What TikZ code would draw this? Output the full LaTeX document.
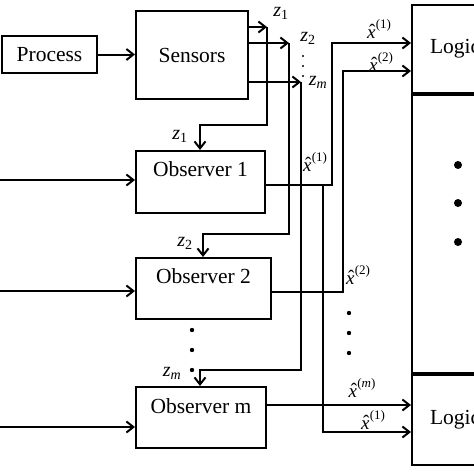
\documentclass[tikz,border=0pt]{standalone}
\usepackage{fontspec}
\setmainfont{Liberation Serif}
\usetikzlibrary{arrows.meta,calc}
\newcommand\xhatlab[1]{\ooalign{\textit{x}\cr\hidewidth\kern0.12em\raisebox{0.02em}{\char"02C6}\hidewidth\cr}\kern0.02em\raisebox{0.5em}{\fontsize{13}{14}\selectfont(#1)}}
\begin{document}
\begin{tikzpicture}[x=1pt,y=-1pt,
  every node/.style={font=\fontsize{21.5}{24}\selectfont},
  blk/.style={draw, line width=2pt, anchor=north west, inner sep=0pt, rectangle},
  wire/.style={line width=2pt},
  arr/.style={line width=2pt, -{Straight Barb[length=7pt,width=11pt]}},
  lab/.style={font=\fontsize{20}{22}\selectfont, inner sep=0pt},
  xlab/.style={font=\fontsize{19}{22}\selectfont, inner sep=0pt},
  dotsm/.style={fill=black},
]
\useasboundingbox (0,0) rectangle (474,474);
\clip (0,0) rectangle (474,474);
% blocks
\node[blk, minimum width=95pt, minimum height=37pt] (proc) at (1,35) {Process};
\node[blk, minimum width=112pt, minimum height=88pt] (sens) at (135,10) {Sensors};
\node[blk, minimum width=129pt, text height=25pt, text depth=37pt] (obs1) at (135,150) {Observer 1};
\node[blk, minimum width=135pt, text height=25pt, text depth=36pt] (obs2) at (135,257) {Observer 2};
\node[blk, minimum width=130pt, text height=26pt, text depth=35pt] (obsm) at (135,386) {Observer m};
\node[blk, minimum height=88pt, text width=100pt, align=left, inner xsep=18pt] (logic1) at (411,4) {Logic};
\node[blk, minimum width=130pt, minimum height=278pt] (mid) at (411,94) {};
\node[blk, minimum height=90pt, text width=100pt, align=left, inner xsep=18pt] (logic2) at (411,374) {Logic};
% process to sensors
\draw[arr] (proc.east) -- (proc.east -| sens.west);
% sensor outputs
\coordinate (j1) at (267,27);
\coordinate (j2) at (289,43);
\coordinate (jm) at (301,82);
\draw[arr] (sens.east |- j1) -- (j1);
\draw[arr] (sens.east |- j2) -- (j2);
\draw[arr] (sens.east |- jm) -- (jm);
\draw[arr] (j1) |- ($(obs1.north west)+(65,-25)$) -- ($(obs1.north west)+(65,0)$);
\draw[arr] (j2) |- ($(obs2.north west)+(68,-23)$) -- ($(obs2.north west)+(68,0)$);
\draw[arr] (jm) |- ($(obsm.north west)+(65,-16)$) -- ($(obsm.north west)+(65,0)$);
% inputs
\coordinate (in1) at (0,180);
\coordinate (in2) at (0,291);
\coordinate (inm) at (0,427);
\draw[arr] (in1) -- (in1 -| obs1.west);
\draw[arr] (in2) -- (in2 -| obs2.west);
\draw[arr] (inm) -- (inm -| obsm.west);
% observer outputs
\coordinate (o1) at ($(obs1.east)+(0,3)$);
\coordinate (o2) at ($(obs2.east)+(0,3.5)$);
\coordinate (om) at ($(obsm.east)+(0,-12.5)$);
\draw[arr] (o1) -| ($(logic1.north west)+(-79,39)$) -- ($(logic1.north west)+(0,39)$);
\draw[arr] ($(o1)+(57,0)$) |- ($(logic2.north west)+(0,58)$);
\draw[arr] (o2) -| ($(logic1.north west)+(-68,67)$) -- ($(logic1.north west)+(0,67)$);
\draw[arr] (om) -- (om -| logic2.west);
% labels
\node[lab] (lz1) at (281,13) {\textit{z}\textsubscript{1}};
\node[lab] (lz2) at (308,38) {\textit{z}\textsubscript{2}};
\node[lab] (lzm) at (318,82) {\textit{z}\textsubscript{\textit{m}}};
\node[lab] (bz1) at (180,136) {\textit{z}\textsubscript{1}};
\node[lab] (bz2) at (185,243) {\textit{z}\textsubscript{2}};
\node[lab] (bzm) at (172,373) {\textit{z}\textsubscript{\textit{m}}};
\node[xlab] (tx1) at (379,29) {\xhatlab{1}};
\node[xlab] (tx2) at (381,62) {\xhatlab{2}};
\node[xlab] (mx1) at (315,162) {\xhatlab{1}};
\node[xlab] (mx2) at (358,275) {\xhatlab{2}};
\node[xlab] (mxm) at (362,388) {\xhatlab{\textit{m}}};
\node[xlab] (bx1) at (373,420) {\xhatlab{1}};
% dots
\foreach \yy in {56,66,76} \fill[dotsm] (303,\yy) circle (1.1pt);
\foreach \yy in {330,350,370} \fill[dotsm] (192,\yy) circle (2.2pt);
\foreach \yy in {313,333,353} \fill[dotsm] (349,\yy) circle (2.2pt);
\foreach \yy in {165,203,242} \fill[dotsm] (458,\yy) circle (4pt);
\end{tikzpicture}
\end{document}
